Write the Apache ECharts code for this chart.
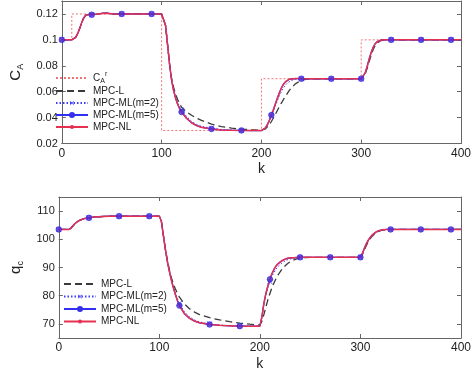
<!DOCTYPE html>
<html><head><meta charset="utf-8">
<script src="https://cdn.jsdelivr.net/npm/echarts@6/dist/echarts.min.js"></script>
<style>html,body{margin:0;padding:0;background:#fff}#c{width:474px;height:372px}</style>
</head><body><div id="c"></div>
<script>
// ---- data ----
const kSteps = [
  0,10,12,14,16,18,20,22,24,26,28,30,
  35,40,45,50,55,60,70,80,90,100,
  101,102,104,106,108,110,112,114,116,118,120,
  125,130,135,140,150,160,170,180,190,200,
  201,202,204,206,208,210,212,214,216,218,220,
  222,224,226,228,230,234,238,240,242,246,250,
  260,270,280,290,300,
  301,302,304,306,308,310,312,314,316,318,320,
  322,326,330,340,360,390,400];

const caRefK = [0,10,100,200,300,400];
const caRef  = [0.1,0.12,0.03,0.07,0.1,0.1];

const caNL = [
  0.1,0.1,0.1003,0.102,0.105,0.109,0.1135,0.117,0.119,0.1197,0.1196,0.1194,
  0.1197,0.1204,0.1206,0.1201,0.1198,0.12,0.12,0.12,0.12,0.12,
  0.1199,0.1194,0.111,0.096,0.081,0.069,0.061,0.055,0.0505,0.047,0.0443,
  0.0395,0.036,0.0338,0.0325,0.0312,0.0305,0.0302,0.0301,0.03,0.03,
  0.0301,0.0304,0.032,0.0345,0.038,0.042,0.046,0.0505,0.055,0.0592,0.0628,
  0.0656,0.0676,0.0689,0.0696,0.0699,0.0701,0.0701,0.07,0.07,0.07,0.07,
  0.07,0.07,0.07,0.07,0.07,
  0.0702,0.0712,0.0745,0.0795,0.0852,0.0903,0.0943,0.097,0.0986,0.0995,0.0999,
  0.1,0.1,0.1,0.1,0.1,0.1,0.1];
const caML5 = [
  0.1,0.1,0.1003,0.102,0.105,0.109,0.1135,0.117,0.119,0.1197,0.1196,0.1194,
  0.1197,0.1204,0.1206,0.1201,0.1198,0.12,0.12,0.12,0.12,0.12,
  0.1199,0.1194,0.111,0.096,0.081,0.069,0.061,0.055,0.0505,0.047,0.0443,
  0.0395,0.036,0.0338,0.0325,0.0312,0.0305,0.0302,0.0301,0.03,0.03,
  0.0301,0.0304,0.032,0.0345,0.038,0.042,0.046,0.0505,0.055,0.0592,0.0628,
  0.0656,0.0676,0.0689,0.0696,0.0699,0.0701,0.0701,0.07,0.07,0.07,0.07,
  0.07,0.07,0.07,0.07,0.07,
  0.0702,0.0712,0.0745,0.0795,0.0852,0.0903,0.0943,0.097,0.0986,0.0995,0.0999,
  0.1,0.1,0.1,0.1,0.1,0.1,0.1];
const caML2 = [
  0.1,0.1,0.1003,0.102,0.105,0.109,0.1135,0.117,0.119,0.1197,0.1196,0.1194,
  0.1197,0.1204,0.1206,0.1201,0.1198,0.12,0.12,0.12,0.12,0.12,
  0.1199,0.1194,0.111,0.096,0.0812,0.0695,0.0618,0.0562,0.0518,0.0485,0.0458,
  0.0408,0.0372,0.0348,0.0333,0.0318,0.0308,0.0303,0.0301,0.03,0.03,
  0.0301,0.0304,0.0318,0.034,0.0372,0.041,0.045,0.049,0.053,0.0568,0.06,
  0.0628,0.065,0.0667,0.0679,0.0687,0.0695,0.0699,0.07,0.07,0.07,0.07,
  0.07,0.07,0.07,0.07,0.07,
  0.0702,0.071,0.074,0.079,0.0845,0.0895,0.0937,0.0966,0.0984,0.0994,0.0998,
  0.1,0.1,0.1,0.1,0.1,0.1,0.1];
const caL = [
  0.1,0.1,0.1003,0.102,0.105,0.109,0.1135,0.117,0.119,0.1197,0.1196,0.1194,
  0.1197,0.1204,0.1206,0.1201,0.1198,0.12,0.12,0.12,0.12,0.12,
  0.1199,0.1194,0.111,0.096,0.0815,0.0705,0.0635,0.058,0.0542,0.0508,0.048,
  0.0445,0.0418,0.0396,0.0378,0.035,0.0331,0.0319,0.0311,0.0306,0.0303,
  0.0303,0.0305,0.0312,0.0325,0.0345,0.037,0.0397,0.0425,0.0455,0.0485,0.0512,
  0.0538,0.0563,0.0587,0.061,0.063,0.066,0.0679,0.0686,0.0691,0.0697,0.0699,
  0.07,0.07,0.07,0.07,0.07,
  0.0701,0.0708,0.0735,0.078,0.0832,0.0882,0.0925,0.0956,0.0976,0.0988,0.0995,
  0.0998,0.1,0.1,0.1,0.1,0.1,0.1];

const qNL = [
  103.5,103.5,103.9,104.7,105.5,106.1,106.6,106.9,107.2,107.4,107.5,107.6,
  107.9,108.0,108.1,108.2,108.2,108.2,108.2,108.2,108.2,108.2,
  107.8,106.5,101.5,96.5,92.2,88.6,85.5,82.8,80.4,78.3,76.5,
  73.6,72,71,70.4,69.8,69.5,69.3,69.2,69.2,69.2,
  69.8,72.5,77.3,80.8,83.5,85.8,87.8,89.3,90.5,91.3,91.9,
  92.4,92.8,93.1,93.3,93.4,93.5,93.6,93.6,93.6,93.6,93.6,
  93.6,93.6,93.6,93.6,93.6,
  94.1,95,96.9,98.5,99.8,100.8,101.6,102.2,102.7,103,103.2,
  103.35,103.5,103.5,103.5,103.5,103.5,103.5];
const qML5 = [
  103.5,103.5,103.9,104.7,105.5,106.1,106.6,106.9,107.2,107.4,107.5,107.6,
  107.9,108.0,108.1,108.2,108.2,108.2,108.2,108.2,108.2,108.2,
  107.8,106.5,101.5,96.5,92.2,88.6,85.5,82.8,80.4,78.3,76.5,
  73.6,72,71,70.4,69.8,69.5,69.3,69.2,69.2,69.2,
  69.8,72.5,77.3,80.8,83.5,85.8,87.8,89.3,90.5,91.3,91.9,
  92.4,92.8,93.1,93.3,93.4,93.5,93.6,93.6,93.6,93.6,93.6,
  93.6,93.6,93.6,93.6,93.6,
  94.1,95,96.9,98.5,99.8,100.8,101.6,102.2,102.7,103,103.2,
  103.35,103.5,103.5,103.5,103.5,103.5,103.5];
const qML2 = [
  103.5,103.5,103.9,104.7,105.5,106.1,106.6,106.9,107.2,107.4,107.5,107.6,
  107.9,108.0,108.1,108.2,108.2,108.2,108.2,108.2,108.2,108.2,
  107.8,106.5,101.5,96.5,92.3,88.8,85.8,83.2,80.9,78.9,77.2,
  74.3,72.5,71.4,70.7,70,69.6,69.4,69.3,69.2,69.2,
  69.8,72.3,77,80.3,82.9,85,86.8,88.2,89.4,90.3,91,
  91.6,92.1,92.5,92.8,93,93.3,93.5,93.55,93.6,93.6,93.6,
  93.6,93.6,93.6,93.6,93.6,
  94.1,94.9,96.7,98.3,99.6,100.6,101.4,102,102.5,102.9,103.1,
  103.3,103.45,103.5,103.5,103.5,103.5,103.5];
const qL = [
  103.5,103.5,103.9,104.7,105.5,106.1,106.6,106.9,107.2,107.4,107.5,107.6,
  107.9,108.0,108.1,108.2,108.2,108.2,108.2,108.2,108.2,108.2,
  107.8,106.5,101.5,96.7,92.6,89.2,86.4,84.2,82.4,80.8,79.5,
  77.1,75.4,74.2,73.3,72.2,71.4,70.8,70.3,69.9,69.6,
  69.8,70.9,73.3,76,78.6,80.8,82.8,84.5,86,87.3,88.4,
  89.4,90.2,90.9,91.5,92,92.7,93.2,93.3,93.45,93.55,93.6,
  93.6,93.6,93.6,93.6,93.6,
  93.9,94.6,96.3,97.9,99.2,100.3,101.2,101.9,102.4,102.8,103.1,
  103.3,103.45,103.5,103.5,103.5,103.5,103.5];

const xTicks  = [0,100,200,300,400];
const caTicks = [0.02,0.04,0.06,0.08,0.1,0.12];
const caTickLabels = ['0.02','0.04','0.06','0.08','0.1','0.12'];
const qTicks  = [70,80,90,100,110];
const qTickLabels = ['70','80','90','100','110'];

const seriesNames = ['CAr','MPC-L','MPC-ML(m=2)','MPC-ML(m=5)','MPC-NL'];
const markerEvery = 30;

// ---- chart ----
const FONT = '"Liberation Sans", Arial, Helvetica, sans-serif';
const AX = '#666';
const TXT = '#222';
const C_REF = '#f07373', C_L = '#3a3a3a', C_ML2 = '#3d3dff', C_ML5 = '#3030f0', C_NL = '#e5304f', C_MK = '#5a2cc4';
const xPath = 'path://M0,1L1,0L5,4L9,0L10,1L6,5L10,9L9,10L5,6L1,10L0,9L4,5Z';

const zip = (ks, vs) => ks.map((k, i) => [k, vs[i]]);
const marks = (vs) => kSteps.map((k, i) => [k, vs[i]]).filter(p => p[0] % markerEvery === 0);

function xAx(g, top) {
  return {
    type: 'value', gridIndex: g, position: top ? 'top' : 'bottom', min: 0, max: 400, interval: 100,
    axisLine: { show: true, onZero: false, lineStyle: { color: AX, width: 1 } },
    axisTick: { show: true, inside: true, length: 4, lineStyle: { color: AX }, customValues: xTicks },
    axisLabel: { show: !top, color: TXT, fontSize: 12, margin: 4, fontFamily: FONT, customValues: xTicks },
    splitLine: { show: false },
    name: top ? '' : 'k', nameLocation: 'middle', nameGap: 19,
    nameTextStyle: { color: TXT, fontSize: 14, fontFamily: FONT }
  };
}
function yAx(g, right, min, max, ticks, labels, name) {
  return {
    type: 'value', gridIndex: g, position: right ? 'right' : 'left', min, max,
    axisLine: { show: true, onZero: false, lineStyle: { color: AX, width: 1 } },
    axisTick: { show: true, inside: true, length: 4, lineStyle: { color: AX }, customValues: ticks },
    axisLabel: { show: !right, color: TXT, fontSize: 11, margin: 4, fontFamily: FONT, customValues: ticks,
      formatter: v => { const i = ticks.findIndex(t => Math.abs(t - v) < 1e-9); return i >= 0 ? labels[i] : ''; } },
    splitLine: { show: false },
    name: right ? '' : name, nameLocation: 'middle', nameGap: 33, nameRotate: 90,
    nameTextStyle: { color: TXT, fontFamily: FONT, rich: {
      c: { fontSize: 15, lineHeight: 20, verticalAlign: 'middle', color: TXT, fontFamily: FONT },
      s: { fontSize: 9, lineHeight: 8, verticalAlign: 'bottom', color: TXT, fontFamily: FONT } } }
  };
}

function lineS(name, g, data, color, type, width, symbol, z, itemStyle, step) {
  const s = { name, type: 'line', xAxisIndex: 2 * g, yAxisIndex: 2 * g, data,
    symbol: symbol || 'none', showSymbol: false, symbolSize: 5,
    lineStyle: { color, type, width }, itemStyle: itemStyle || { color }, z, animation: false, silent: true };
  if (step) s.step = step;
  return s;
}
function markS(g, data, symbol, size, itemStyle, z) {
  return { name: 'mk' + z + g, type: 'scatter', xAxisIndex: 2 * g, yAxisIndex: 2 * g, data, symbol, symbolSize: size,
    itemStyle, z, animation: false, silent: true };
}

const ml5Style = { color: C_MK, borderColor: C_ML5, borderWidth: 1 };
const ml2Style = { color: C_ML2 };

const series = [
  lineS(seriesNames[0], 0, caRefK.map((k, i) => [k, caRef[i]]), C_REF, [2, 2], 1, 'none', 1, null, 'end'),
  lineS(seriesNames[1], 0, zip(kSteps, caL), C_L, [7, 4], 1.3, 'none', 2),
  lineS(seriesNames[2], 0, zip(kSteps, caML2), C_ML2, [1.5, 2], 1, xPath, 3, ml2Style),
  lineS(seriesNames[3], 0, zip(kSteps, caML5), C_ML5, 'solid', 1.3, 'circle', 4, ml5Style),
  lineS(seriesNames[4], 0, zip(kSteps, caNL), C_NL, 'solid', 1.5, 'circle', 5, { color: C_NL }),
  markS(0, marks(caML2), xPath, 5.5, ml2Style, 8),
  markS(0, marks(caML5), 'circle', 5.5, ml5Style, 9),

  lineS(seriesNames[1], 1, zip(kSteps, qL), C_L, [7, 4], 1.3, 'none', 2),
  lineS(seriesNames[2], 1, zip(kSteps, qML2), C_ML2, [1.5, 2], 1, xPath, 3, ml2Style),
  lineS(seriesNames[3], 1, zip(kSteps, qML5), C_ML5, 'solid', 1.3, 'circle', 4, ml5Style),
  lineS(seriesNames[4], 1, zip(kSteps, qNL), C_NL, 'solid', 1.5, 'circle', 5, { color: C_NL }),
  markS(1, marks(qML2), xPath, 5.5, ml2Style, 8),
  markS(1, marks(qML5), 'circle', 5.5, ml5Style, 9)
];

const legendText = {
  color: TXT, fontSize: 10, fontFamily: FONT, lineHeight: 12,
  rich: {
    c: { fontSize: 10, lineHeight: 14, verticalAlign: 'middle', color: TXT, fontFamily: FONT },
    sub: { fontSize: 7, lineHeight: 6, verticalAlign: 'bottom', color: TXT, fontFamily: FONT },
    sup: { fontSize: 7, lineHeight: 6, verticalAlign: 'top', color: TXT, fontFamily: FONT }
  }
};
const legendFmt = n => n === 'CAr' ? '{c|C}{sub|A}{sup|r}' : n;
const noSym = { opacity: 0 };

const chart = echarts.init(document.getElementById('c'), null, { renderer: 'canvas' });
chart.setOption({
  backgroundColor: '#fff',
  animation: false,
  grid: [
    { left: 47, right: 10, top: 1, height: 142.5, show: false },
    { left: 47, right: 10, top: 197, height: 141, show: false }
  ],
  xAxis: [xAx(0, false), xAx(0, true), xAx(1, false), xAx(1, true)],
  yAxis: [
    yAx(0, false, 0.02, 0.13, caTicks, caTickLabels, '{c|C}{s|A}'),
    yAx(0, true, 0.02, 0.13, caTicks, caTickLabels, ''),
    yAx(1, false, 65, 115, qTicks, qTickLabels, '{c|q}{s|c}'),
    yAx(1, true, 65, 115, qTicks, qTickLabels, '')
  ],
  legend: [
    { orient: 'vertical', left: 55, top: 71, padding: 0, itemWidth: 32, itemHeight: 5, itemGap: 0, selectedMode: false,
      textStyle: legendText, formatter: legendFmt,
      data: [
        { name: 'CAr', itemStyle: noSym },
        { name: 'MPC-L', itemStyle: noSym },
        'MPC-ML(m=2)', 'MPC-ML(m=5)',
        { name: 'MPC-NL', itemStyle: { color: C_NL } }
      ] },
    { orient: 'vertical', left: 63, top: 278, padding: 0, itemWidth: 32, itemHeight: 5, itemGap: 0.5, selectedMode: false,
      textStyle: legendText, formatter: legendFmt,
      data: [
        { name: 'MPC-L', itemStyle: noSym },
        'MPC-ML(m=2)', 'MPC-ML(m=5)',
        { name: 'MPC-NL', itemStyle: { color: C_NL } }
      ] }
  ],
  series
});
</script>
</body></html>
